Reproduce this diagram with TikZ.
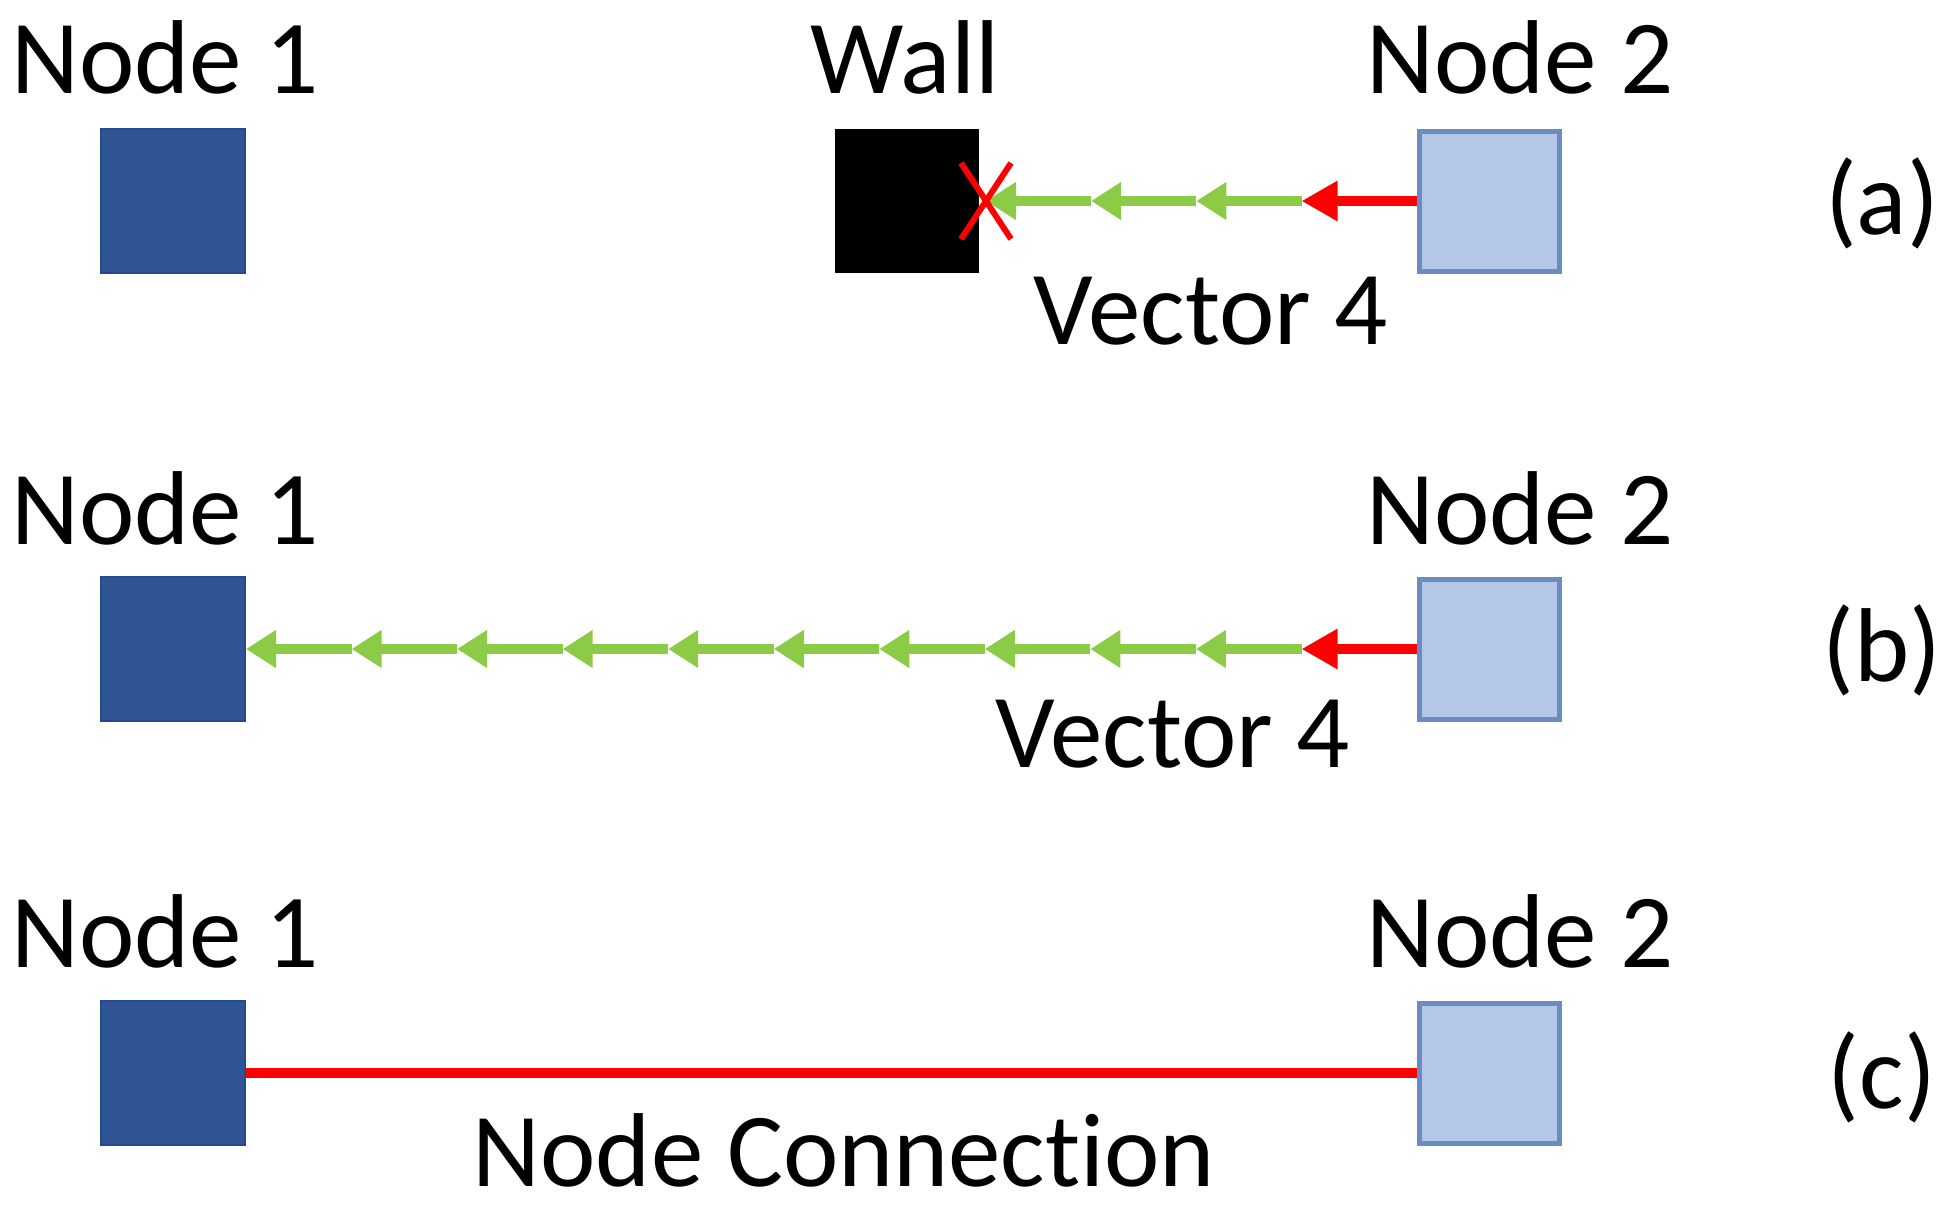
\documentclass[tikz,border=0pt]{standalone}
\usepackage{fontspec}
\setmainfont{Carlito}[Ligatures={NoCommon}]
\usetikzlibrary{arrows.meta,calc}

\definecolor{nodedark}{HTML}{2F5597}
\definecolor{nodeedge}{HTML}{254A8A}
\definecolor{nodelight}{HTML}{B4C7E7}
\definecolor{nodeline}{HTML}{6A8CC3}
\definecolor{vecgreen}{HTML}{8CCB45}

\newcommand{\bigfont}{\fontsize{105}{120}\selectfont}

\begin{document}
\begin{tikzpicture}[x=1pt, y=-1pt,
      node1/.style = {rectangle, draw=nodeedge, line width=2pt,
        fill=nodedark, minimum size=144pt, inner sep=0pt},
      node2/.style = {rectangle, draw=nodeline, line width=5pt,
        fill=nodelight, minimum size=140pt, inner sep=0pt},
      wall/.style = {rectangle, fill=black, minimum size=144pt, inner sep=0pt},
      lbl/.style = {anchor=base, inner sep=0pt, font=\bigfont},
      redvec/.style = {red, line width=10pt, -{Triangle[length=36pt,width=38pt]}},
      greenvec/.style = {vecgreen, line width=10pt, -{Triangle[length=30pt,width=36pt]}},
      link/.style = {red, line width=10pt},
      cross/.style = {red, line width=6pt}]
      \useasboundingbox (0,0) rectangle (1954,1210);

      % (a) the wall stops the vector
      \node[node1] (n1a) at (173,201) {};
      \node[wall] (wall) at (907,201) {};
      \node[node2] (n2a) at (1489,201) {};
      \node[lbl] (t1a) at (165,93) {Node 1};
      \node[lbl] (tw) at (905,93) {Wall};
      \node[lbl] (t2a) at (1520,93) {Node 2};
      \node[lbl] (va) at (1211,344) {Vector 4};
      \node[lbl, anchor=center] (ca) at (1882,203) {(a)};
      \coordinate (ra) at ($(n2a.west)+(-115,0)$);
      \coordinate (hit) at (986,201);
      \foreach \k [evaluate=\k as \a using (\k-1)/3, evaluate=\k as \b using \k/3] in {1,2,3}
        \draw[greenvec] ($(ra)!\a!(hit)$) -- ($(ra)!\b!(hit)$);
      \draw[redvec] (n2a.west) -- (ra);
      \draw[cross] ($(hit)+(-25,-38)$) -- ($(hit)+(25,38)$);
      \draw[cross] ($(hit)+(-25,38)$) -- ($(hit)+(25,-38)$);

      % (b) the vector reaches node 1
      \node[node1] (n1b) at (173,649) {};
      \node[node2] (n2b) at (1489,649) {};
      \node[lbl] (t1b) at (165,544) {Node 1};
      \node[lbl] (t2b) at (1520,544) {Node 2};
      \node[lbl] (vb) at (1173,767) {Vector 4};
      \node[lbl, anchor=center] (cb) at (1882,650) {(b)};
      \coordinate (rb) at ($(n2b.west)+(-115,0)$);
      \foreach \k [evaluate=\k as \a using (\k-1)/10, evaluate=\k as \b using \k/10] in {1,...,10}
        \draw[greenvec] ($(rb)!\a!(n1b.east)$) -- ($(rb)!\b!(n1b.east)$);
      \draw[redvec] (n2b.west) -- (rb);

      % (c) the two nodes are connected
      \node[node1] (n1c) at (173,1073) {};
      \node[node2] (n2c) at (1489,1073) {};
      \node[lbl] (t1c) at (165,967) {Node 1};
      \node[lbl] (t2c) at (1520,967) {Node 2};
      \node[lbl] (nc) at (844,1186) {Node Connection};
      \node[lbl, anchor=center] (cc) at (1882,1077) {(c)};
      \draw[link] (n1c.east) -- (n2c.west);
  \end{tikzpicture}
\end{document}
